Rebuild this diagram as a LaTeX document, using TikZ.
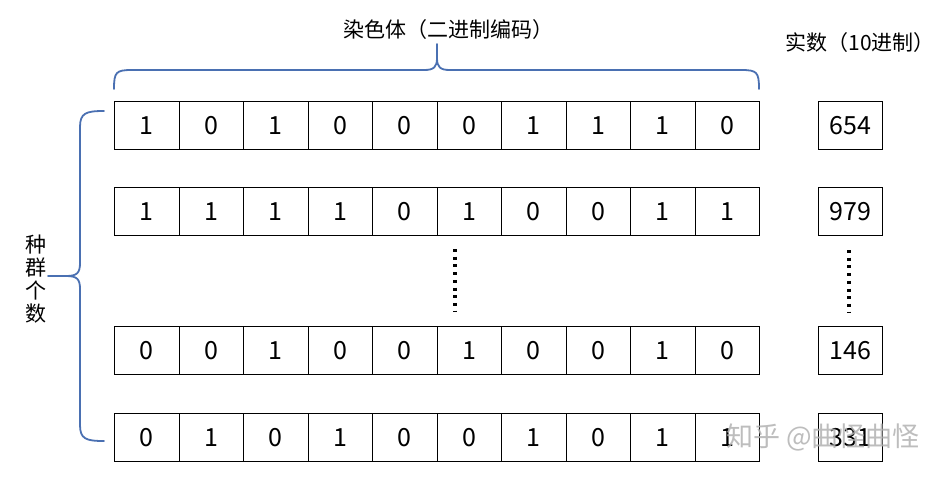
\documentclass[tikz,border=0pt]{standalone}
\usepackage{fontspec}
\setmainfont{Noto Sans CJK SC}
\newfontfamily\cjk{Noto Sans CJK SC}
\definecolor{braceblue}{RGB}{74,112,178}
\begin{document}
\begin{tikzpicture}[x=1pt,y=-1pt,
  cell/.style={draw=black,line width=1.2pt,minimum width=64.5pt,minimum height=48pt,inner sep=0pt,anchor=north west,font=\fontsize{25}{25}\selectfont},
  valbox/.style={draw=black,line width=1.2pt,minimum width=64pt,minimum height=48pt,inner sep=0pt,anchor=north west,font=\fontsize{25}{25}\selectfont},
  cjktext/.style={font=\cjk\fontsize{21}{23}\selectfont,inner sep=0pt},
  bracestyle/.style={draw=braceblue,line width=1.8pt,line cap=round,line join=round},
  dotline/.style={line width=3.2pt,dash pattern=on 3pt off 4.7pt}]
\useasboundingbox (0,0) rectangle (947,477);
\fill[white] (0,0) rectangle (947,477);
% rows
\foreach \r/\y/\bits/\val in {1/101/{1,0,1,0,0,0,1,1,1,0}/654, 2/187/{1,1,1,1,0,1,0,0,1,1}/979, 3/326/{0,0,1,0,0,1,0,0,1,0}/146, 4/413/{0,1,0,1,0,0,1,0,1,1}/331}{
  \foreach \b [count=\i from 0] in \bits {
    \node[cell] (c-\r-\i) at ({114+64.5*\i},\y) {\b};
  }
  \node[valbox] (v-\r) at (818,\y) {\val};
}
% titles
\node[cjktext] (title) at (448,30) {染色体（二进制编码）};
\node[cjktext] (valtitle) at (860,43) {实数（10进制）};
\node[cjktext,align=center] (pop) at (36,279) {种\\群\\个\\数};
% top brace
\coordinate (tb-l) at (114,89);
\coordinate (tb-r) at (759,89);
\coordinate (tb-t) at (437,44);
\draw[bracestyle] (tb-l) .. controls (114,72) and (116,70) .. (132,70) -- (424,70)
  .. controls (434,70) and (437,67) .. (437,58) -- (tb-t);
\draw[bracestyle] (tb-r) .. controls (759,72) and (757,70) .. (741,70) -- (450,70)
  .. controls (440,70) and (437,67) .. (437,58);
% left brace
\coordinate (lb-t) at (104,111);
\coordinate (lb-b) at (104,441);
\coordinate (lb-m) at (48,276);
\draw[bracestyle] (lb-t) .. controls (86,111) and (80,113) .. (80,127) -- (80,263)
  .. controls (80,273) and (77,276) .. (66,276) -- (lb-m);
\draw[bracestyle] (lb-b) .. controls (86,441) and (80,439) .. (80,425) -- (80,289)
  .. controls (80,279) and (77,276) .. (66,276);
% dotted lines
\coordinate (d1a) at (455,249);
\coordinate (d1b) at (455,312);
\coordinate (d2a) at (849,250);
\coordinate (d2b) at (849,313);
\draw[dotline] (d1a) -- (d1b);
\draw[dotline] (d2a) -- (d2b);
% watermark
\node[font=\cjk\fontsize{27}{27}\selectfont,text=gray!60,opacity=0.85,inner sep=0pt] (wm) at (823,437) {知乎 @曲怪曲怪};
\end{tikzpicture}
\end{document}
